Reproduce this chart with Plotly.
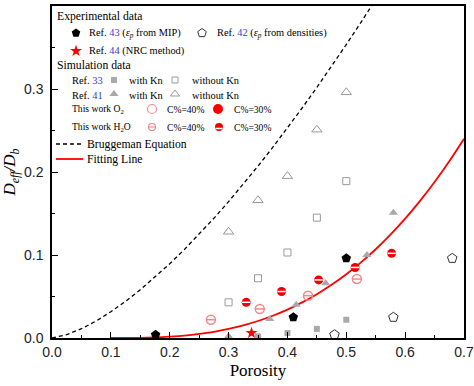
import plotly.graph_objects as go

# ---------------- data ----------------
ref43_x = [0.176, 0.41, 0.50]
ref43_y = [0.004, 0.025, 0.096]
ref42_x = [0.48, 0.58, 0.68]
ref42_y = [0.004, 0.025, 0.096]
ref44_x = [0.339]
ref44_y = [0.006]

ref33_kn_x = [0.35, 0.40, 0.45, 0.50]
ref33_kn_y = [0.002, 0.006, 0.011, 0.022]
ref33_nokn_x = [0.30, 0.35, 0.40, 0.45, 0.50]
ref33_nokn_y = [0.043, 0.072, 0.103, 0.145, 0.189]

ref41_kn_x = [0.30, 0.37, 0.415, 0.465, 0.535, 0.58]
ref41_kn_y = [0.002, 0.023, 0.040, 0.066, 0.100, 0.151]
ref41_nokn_x = [0.30, 0.35, 0.40, 0.45, 0.50]
ref41_nokn_y = [0.128, 0.166, 0.195, 0.251, 0.296]

h2o30_x = [0.33, 0.39, 0.453, 0.515, 0.577]
h2o30_y = [0.043, 0.056, 0.070, 0.085, 0.102]
h2o40_x = [0.27, 0.353, 0.435, 0.518]
h2o40_y = [0.022, 0.035, 0.051, 0.071]

brug_x = [0.0, 0.025, 0.05, 0.075, 0.1, 0.125, 0.15, 0.175, 0.2, 0.225, 0.25,
          0.275, 0.3, 0.325, 0.35, 0.375, 0.4, 0.425, 0.45, 0.475, 0.5, 0.525, 0.55]
brug_y = [0.0, 0.0040, 0.0112, 0.0205, 0.0316, 0.0442, 0.0581, 0.0732, 0.0894,
          0.1067, 0.1250, 0.1442, 0.1643, 0.1853, 0.2071, 0.2296, 0.2530, 0.2771,
          0.3019, 0.3274, 0.3536, 0.3804, 0.4079]

fit_x = [0.1, 0.125, 0.15, 0.175, 0.2, 0.225, 0.25, 0.275, 0.3, 0.325, 0.35, 0.375,
         0.4, 0.425, 0.45, 0.475, 0.5, 0.525, 0.55, 0.575, 0.6, 0.625, 0.65, 0.675, 0.7]
fit_y = [0.0, 0.00003, 0.0002, 0.0007, 0.0016, 0.0029, 0.0049, 0.0075, 0.0110,
         0.0153, 0.0205, 0.0268, 0.0342, 0.0429, 0.0528, 0.0641, 0.0768, 0.0911,
         0.1069, 0.1245, 0.1438, 0.1649, 0.1879, 0.2129, 0.2400]

# ---------------- styles ----------------
RED = "#ff0000"
DRED = "#ee0000"
PINK = "#f08a8a"
GREY = "#a9a9a9"
OGREY = "#9a9a9a"
BLUE = "#3a3ac8"
SERIF = "Liberation Serif"
SANS = "Liberation Sans"

fig = go.Figure()

def add(x, y, **kw):
    kw.setdefault("mode", "markers")
    fig.add_trace(go.Scatter(x=x, y=y, showlegend=False, hoverinfo="skip", **kw))

add(brug_x, brug_y, mode="lines", line=dict(color="black", width=1.3, dash="4px,3px"))
add(fit_x, fit_y, mode="lines", line=dict(color=RED, width=1.8, shape="spline"))

add(ref33_nokn_x, ref33_nokn_y, marker=dict(symbol="square-open", size=7, color=OGREY, line=dict(width=1)))
add(ref41_nokn_x, ref41_nokn_y, marker=dict(symbol="triangle-up-open", size=9, color=OGREY, line=dict(width=1)))
add(ref33_kn_x, ref33_kn_y, marker=dict(symbol="square", size=6, color=GREY, line=dict(width=0)))
add(ref41_kn_x, ref41_kn_y, marker=dict(symbol="triangle-up", size=8, color=GREY, line=dict(width=0)))

add(ref43_x, ref43_y, marker=dict(symbol="pentagon", size=10, color="black", line=dict(width=0)))
add(ref42_x, ref42_y, marker=dict(symbol="pentagon-open", size=10, color="#333333", line=dict(width=1)))
add(ref44_x, ref44_y, marker=dict(symbol="star", size=9, color=RED, line=dict(width=0)))

add(h2o40_x, h2o40_y, marker=dict(symbol="circle-open", size=9, color=PINK, line=dict(width=1.5)))
add(h2o40_x, h2o40_y, marker=dict(symbol="line-ew-open", size=6, color=PINK, line=dict(width=1.5)))
add(h2o30_x, h2o30_y, marker=dict(symbol="circle", size=9, color=DRED, line=dict(width=0)))
add(h2o30_x, h2o30_y, marker=dict(symbol="line-ew-open", size=6, color="white", line=dict(width=1.5, color="white")))

# ---------------- in-plot legend (helper axes in pixel units) ----------------
def key(px, py, **m):
    fig.add_trace(go.Scatter(x=[px], y=[py], xaxis="x2", yaxis="y2", mode="markers",
                             showlegend=False, hoverinfo="skip", cliponaxis=False, marker=m))

def seg(x0, x1, py, **ln):
    fig.add_trace(go.Scatter(x=[x0, x1], y=[py, py], xaxis="x2", yaxis="y2", mode="lines",
                             showlegend=False, hoverinfo="skip", line=ln))

annots = []
def txt(px, py, s, size=11):
    annots.append(dict(x=px, y=py, xref="x2", yref="y2", text=s, showarrow=False,
                       xanchor="left", yanchor="middle",
                       font=dict(family=SERIF, size=size, color="black")))

def blue(n):
    return f"<span style='color:{BLUE}'>{n}</span>"

H1, H2, H3 = 11.7, 10.4, 9.6

txt(55, 16, "Experimental data", H1)
key(76, 33, symbol="pentagon", size=9, color="black", line=dict(width=0))
txt(87, 33, f"Ref. {blue(43)} (<i>ε<sub>p</sub></i> from MIP)", H2)
key(202, 33, symbol="pentagon-open", size=9, color="#333333", line=dict(width=1))
txt(215, 33, f"Ref. {blue(42)} (<i>ε<sub>p</sub></i> from densities)", H2)
key(76, 51, symbol="star", size=9, color=RED, line=dict(width=0))
txt(87, 51, f"Ref. {blue(44)} (NRC method)", H2)

txt(55, 65, "Simulation data", H1)
txt(70, 80, f"Ref. {blue(33)}", H2)
key(114, 80, symbol="square", size=6, color=GREY, line=dict(width=0))
txt(127, 80, "with Kn", H2)
key(175, 80, symbol="square-open", size=6, color=OGREY, line=dict(width=1))
txt(190, 80, "without Kn", H2)
txt(70, 95, f"Ref. {blue(41)}", H2)
key(114, 94, symbol="triangle-up", size=8, color=GREY, line=dict(width=0))
txt(127, 95, "with Kn", H2)
key(175, 94, symbol="triangle-up-open", size=8, color=OGREY, line=dict(width=1))
txt(190, 95, "without Kn", H2)

txt(70, 109, "This work O<sub>2</sub>", H3)
key(152, 109, symbol="circle-open", size=9, color=PINK, line=dict(width=1.2))
txt(165, 109, "C%=40%", H3)
key(218, 109, symbol="circle", size=10, color=RED, line=dict(width=0))
txt(232, 109, "C%=30%", H3)
txt(70, 127, "This work H<sub>2</sub>O", H3)
key(152, 127, symbol="circle-open", size=7, color=PINK, line=dict(width=1.2))
key(152, 127, symbol="line-ew-open", size=4, color=PINK, line=dict(width=1.2))
key(219, 127, symbol="circle", size=8, color=DRED, line=dict(width=0))
key(219, 128.5, symbol="line-ew-open", size=5, color="white", line=dict(width=1.5, color="white"))
txt(165, 127, "C%=40%", H3)
txt(232, 127, "C%=30%", H3)

seg(56, 83, 144, color="black", width=1.3, dash="4px,3px")
txt(85, 144, "Bruggeman Equation", H1)
seg(56, 83, 159, color=RED, width=1.8)
txt(85, 159, "Fitting Line", H1)

fig.update_layout(
    width=474, height=386,
    margin=dict(l=52, r=10, t=6, b=48, autoexpand=False),
    paper_bgcolor="white", plot_bgcolor="white",
    showlegend=False,
    annotations=annots,
    font=dict(family=SERIF),
    xaxis=dict(range=[0, 0.7], dtick=0.1, tickformat=".1f", ticks="inside", ticklen=6,
               tickwidth=1.2, tickcolor="black", showline=True, linecolor="black",
               linewidth=1.5, mirror=True, showgrid=False, zeroline=False, automargin=False,
               minor=dict(ticks="inside", dtick=0.05, ticklen=3, tickcolor="black", showgrid=False),
               tickfont=dict(family=SANS, size=14, color="#222"),
               title=dict(text="Porosity", font=dict(family=SERIF, size=17, color="black"), standoff=6)),
    yaxis=dict(range=[0, 0.4], dtick=0.1, tickformat=".1f", ticks="inside", ticklen=6,
               tickwidth=1.2, tickcolor="black", showline=True, linecolor="black",
               linewidth=1.5, mirror=True, showgrid=False, zeroline=False, automargin=False,
               minor=dict(ticks="inside", dtick=0.05, ticklen=3, tickcolor="black", showgrid=False),
               tickfont=dict(family=SANS, size=14, color="#222"), ticklabelstandoff=4,
               title=dict(text="<i>D</i><sub><i>eff</i></sub><i>/D</i><sub><i>b</i></sub>",
                          font=dict(family=SERIF, size=17, color="black"), standoff=4)),
    xaxis2=dict(range=[52, 464], overlaying="x", visible=False, fixedrange=True),
    yaxis2=dict(range=[338, 6], overlaying="y", visible=False, fixedrange=True),
)

fig.write_html("out.html", config={"displayModeBar": False},
               post_script="document.body.style.margin='0';document.body.style.overflow='hidden';")
